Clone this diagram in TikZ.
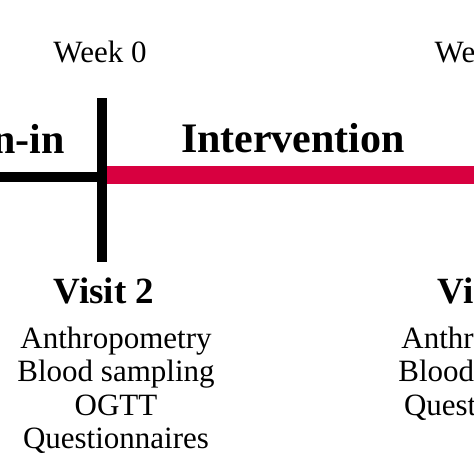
\documentclass[tikz,border=0pt]{standalone}
\usepackage{fontspec}
\setmainfont{Liberation Serif}
\usepackage{tikz}
\usetikzlibrary{positioning}
\usepackage{xcolor}
\definecolor{armred}{RGB}{216,0,64}

\begin{document}
\begin{tikzpicture}[x=1pt,y=-1pt,
  lbl/.style={inner sep=0pt,anchor=base,font=\fontsize{31}{36}\selectfont},
  phase/.style={inner sep=0pt,anchor=base,font=\fontsize{42}{48}\selectfont\bfseries},
  visit/.style={inner sep=0pt,anchor=base,font=\fontsize{37}{42}\selectfont\bfseries}]
\useasboundingbox (0,0) rectangle (474,474);
\clip (0,0) rectangle (474,474);
% timeline
\coordinate (start) at (-20,177);
\coordinate (wk0) at (102,177);
\coordinate (wk0top) at (102,98);
\coordinate (wk0bot) at (102,262);
\coordinate (stop) at (500,175);
\draw[line width=9.5pt] (start) -- (wk0);
\draw[armred,line width=18pt] (wk0) ++(0,-2) coordinate (redstart) -- (stop);
\draw[line width=10pt] (wk0top) -- (wk0bot);
% labels
\node[phase,anchor=base east] (runin) at (65,153) {Run-in};
\node[phase] (interv) at (293,152) {Intervention};
\node[lbl] (week0) at (100,62) {Week 0};
\node[lbl] (week12) at (489,62) {Week 12};
% visit 2
\node[visit] (visit2) at (104,303) {Visit 2};
\node[lbl] (v2a) at (116,348) {Anthropometry};
\node[lbl] (v2b) at (116,381.5) {Blood sampling};
\node[lbl] (v2c) at (116,415) {OGTT};
\node[lbl] (v2d) at (116,448.5) {Questionnaires};
% visit 3
\node[visit] (visit3) at (488,303) {Visit 3};
\node[lbl] (v3a) at (497,348) {Anthropometry};
\node[lbl] (v3b) at (497,381.5) {Blood sampling};
\node[lbl] (v3c) at (497,415) {Questionnaires};
\end{tikzpicture}
\end{document}
